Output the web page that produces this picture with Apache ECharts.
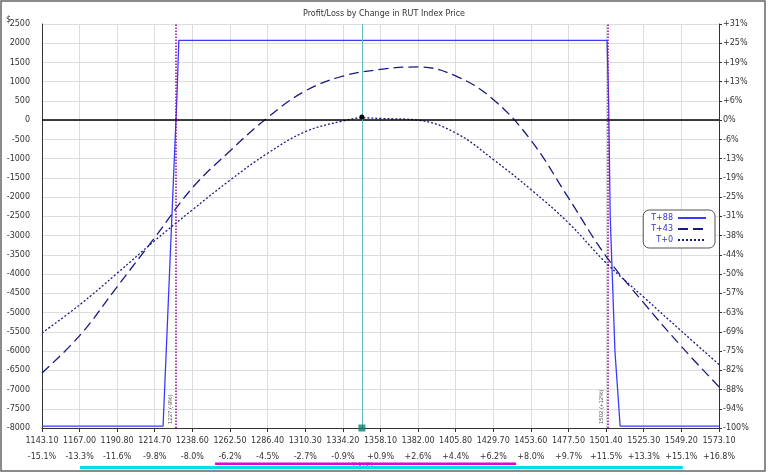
<!DOCTYPE html>
<html><head><meta charset="utf-8">
<script src="https://cdn.jsdelivr.net/npm/echarts@6/dist/echarts.min.js"></script>
<style>html,body{margin:0;padding:0;background:#fff}#c{width:768px;height:475px}</style>
</head><body><div id="c"></div>
<script>
const prices = [1143.1,1167.0,1190.8,1214.7,1238.6,1262.5,1286.4,1310.3,1334.2,1358.1,1382.0,1405.8,1429.7,1453.6,1477.5,1501.4,1525.3,1549.2,1573.1];
const pctLabels = ['-15.1%','-13.3%','-11.6%','-9.8%','-8.0%','-6.2%','-4.5%','-2.7%','-0.9%','+0.9%','+2.6%','+4.4%','+6.2%','+8.0%','+9.7%','+11.5%','+13.3%','+15.1%','+16.8%'];
const rightPctTicks = ['-100%','-94%','-88%','-82%','-75%','-69%','-63%','-57%','-50%','-44%','-38%','-31%','-25%','-19%','-13%','-6%','0%','+6%','+13%','+19%','+25%','+31%'];
const t88 = [[1143.1,-7950],[1220,-7950],[1228.8,600],[1230,2075],[1502,2075],[1503,500],[1504,-2500],[1507,-6000],[1510.3,-7950],[1573.1,-7950]];
const t43 = [[1143.1,-6570],[1167.0,-5600],[1190.8,-4330],[1214.7,-3050],[1238.6,-1760],[1262.5,-800],[1286.4,70],[1310.3,760],[1334.2,1145],[1358.1,1320],[1382.0,1385],[1405.8,1150],[1429.7,540],[1453.6,-520],[1477.5,-2020],[1501.4,-3540],[1525.3,-4750],[1549.2,-5880],[1573.1,-6930]];
const t0 = [[1143.1,-5530],[1167.0,-4800],[1190.8,-3980],[1214.7,-3130],[1238.6,-2330],[1262.5,-1560],[1286.4,-860],[1310.3,-300],[1334.2,-20],[1346.3,60],[1358.1,45],[1382.0,0],[1405.8,-330],[1429.7,-1020],[1453.6,-1800],[1477.5,-2670],[1501.4,-3710],[1525.3,-4600],[1549.2,-5480],[1573.1,-6350]];
const currentPrice = 1346.3;
const currentPL = 80;
const breakLines = [{x:1228.2,label:'1227 (-9%)'},{x:1502.4,label:'1502 (+12%)'}];
const rangeOuter = [1167.2,1550.12];
const rangeInner = [1253.0,1444.2];
const rangeLabels = ['1186.86','1252.76','1443.91','1550.12'];

const chart = echarts.init(document.getElementById('c'));
const ax = {min:1143.1,max:1573.1};
const f = 'DejaVu Sans';
chart.setOption({
  animation:false,
  backgroundColor:'#fff',
  title:{text:'Profit/Loss by Change in RUT Index Price',left:'center',top:5,textStyle:{fontSize:8,fontWeight:'normal',color:'#333',fontFamily:f}},
  graphic:[
    {type:'rect',shape:{x:1,y:1,width:764,height:470},style:{fill:'none',stroke:'#666',lineWidth:1.5}},
    {type:'text',left:6,top:16,style:{text:'$',fontSize:8,fill:'#333',fontFamily:f}}
  ],
  legend:{orient:'vertical',right:53,top:210,align:'right',itemWidth:28,itemHeight:8,itemGap:3,padding:[4,8],
    borderColor:'#555',borderWidth:1,borderRadius:6,backgroundColor:'#fff',
    itemStyle:{opacity:0},
    textStyle:{color:'#3333cc',fontSize:8,fontFamily:f},data:['T+88','T+43','T+0']},
  grid:[{left:42,right:49,top:24,bottom:47},{left:42,right:49,top:462,bottom:6}],
  xAxis:[
    {type:'value',gridIndex:0,...ax,
      axisLine:{onZero:false,lineStyle:{color:'#333'}},
      axisTick:{customValues:prices,length:4,lineStyle:{color:'#333'}},
      splitLine:{show:true,customValues:prices,lineStyle:{color:'#ddd'}},
      axisLabel:{customValues:prices,fontSize:8,color:'#333',fontFamily:f,lineHeight:16,margin:5,
        formatter:v=>{let i=0,b=1e9;prices.forEach((p,j)=>{if(Math.abs(p-v)<b){b=Math.abs(p-v);i=j;}});return prices[i].toFixed(2)+'\n'+pctLabels[i];}}},
    {type:'value',gridIndex:1,...ax,show:false}
  ],
  yAxis:[
    {type:'value',gridIndex:0,min:-8000,max:2500,interval:500,
      axisLine:{show:true,lineStyle:{color:'#333'}},axisTick:{show:false},
      splitLine:{lineStyle:{color:'#ddd'}},
      axisLabel:{fontSize:8,color:'#333',fontFamily:f,margin:12,formatter:v=>String(v)}},
    {type:'value',gridIndex:0,min:-100,max:31.25,interval:6.25,position:'right',
      axisLine:{show:true,lineStyle:{color:'#333'}},axisTick:{show:true,length:3},splitLine:{show:false},
      axisLabel:{fontSize:8,color:'#333',fontFamily:f,margin:4,
        formatter:v=>rightPctTicks[Math.round((v+100)/6.25)]}},
    {type:'value',gridIndex:1,min:0,max:1,show:false}
  ],
  series:[
    {name:'T+88',type:'line',data:t88,symbol:'none',lineStyle:{color:'#3a3aff',width:1.3},itemStyle:{color:'#3a3aff'},
      markLine:{silent:true,symbol:'none',data:[
        {yAxis:0,lineStyle:{color:'#000',width:1.5,type:'solid'},label:{show:false}},
        ...breakLines.map(b=>({xAxis:b.x,lineStyle:{color:'#990099',type:'dotted',width:1.5},
          label:{show:true,position:'insideStartTop',formatter:b.label,fontSize:6,color:'#555',distance:[4,3]}})),
        {xAxis:currentPrice,lineStyle:{color:'#5fbfbf',type:'solid',width:1},label:{show:false}}
      ]}},
    {name:'T+43',type:'line',data:t43,smooth:0.4,symbol:'none',lineStyle:{color:'#1a1a80',width:1.3,type:[10,5]},itemStyle:{color:'#1a1a80'}},
    {name:'T+0',type:'line',data:t0,smooth:0.4,symbol:'none',lineStyle:{color:'#1a1a80',width:1.3,type:[2,2]},itemStyle:{color:'#1a1a80'},
      markPoint:{symbol:'circle',symbolSize:5,itemStyle:{color:'#000'},label:{show:false},data:[{coord:[currentPrice,currentPL]}]}},
    {type:'scatter',data:[[currentPrice,-8000]],symbol:'rect',symbolSize:7,itemStyle:{color:'#0b7f6f'},silent:true,z:5},
    {type:'line',xAxisIndex:1,yAxisIndex:2,data:[[rangeOuter[0],0.2],[rangeOuter[1],0.2]],symbol:'none',lineStyle:{color:'#00e0e0',width:3},silent:true},
    {type:'line',xAxisIndex:1,yAxisIndex:2,data:[[rangeInner[0],0.75],[rangeInner[1],0.75]],symbol:'none',lineStyle:{color:'#e000e0',width:2.5},silent:true},
    {type:'scatter',xAxisIndex:1,yAxisIndex:2,symbolSize:0,silent:true,
      data:[[rangeOuter[0],1.6],[rangeInner[0],2.6],[rangeInner[1],1.6],[rangeOuter[1],1.6],[currentPrice+10,0.6]],
      label:{show:true,fontSize:5,color:'#333',position:'left',
        formatter:p=>rangeLabels.concat(['V=14.6%'])[p.dataIndex]}}
  ]
});
</script></body></html>
